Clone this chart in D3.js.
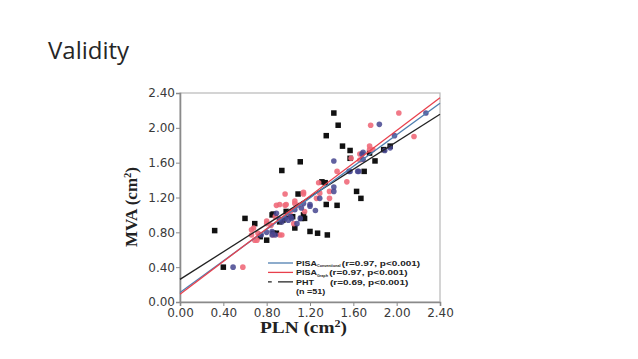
<!DOCTYPE html>
<html>
<head>
<meta charset="utf-8">
<script src="https://cdn.jsdelivr.net/npm/d3@7"></script>
<style>
  body { margin: 0; background: #fff; }
  svg { display: block; }
</style>
</head>
<body>
<svg id="chart" width="638" height="359"></svg>
<script>
// axis ticks
const xTicks = [0, 0.4, 0.8, 1.2, 1.6, 2.0, 2.4];
const yTicks = [0, 0.4, 0.8, 1.2, 1.6, 2.0, 2.4];

// PHT (black squares): [PLN, MVA]
const phtPoints = [
  [0.32, 0.82], [0.40, 0.40], [0.60, 0.96], [0.69, 0.90], [0.74, 0.75],
  [0.80, 0.71], [0.85, 1.00], [0.86, 0.79], [0.89, 0.79], [0.86, 1.01],
  [0.94, 1.51], [0.95, 0.94], [0.98, 1.04], [1.06, 0.85], [1.09, 1.24],
  [1.11, 1.61], [1.12, 0.96], [1.14, 1.00], [1.15, 0.96], [1.20, 0.81],
  [1.27, 0.79], [1.31, 1.38], [1.34, 1.37], [1.35, 1.91], [1.35, 1.12],
  [1.36, 0.77], [1.42, 2.17], [1.45, 1.11], [1.46, 2.03], [1.50, 1.79],
  [1.57, 1.74], [1.57, 1.65], [1.63, 1.27], [1.67, 1.19], [1.70, 1.50],
  [1.75, 1.71], [1.80, 1.62], [1.88, 1.75], [1.94, 1.79], [1.00, 1.00],
  [0.92, 0.92], [1.04, 0.98]
];

// PISA conventional (blue circles)
const pisaConvPoints = [
  [0.49, 0.40], [0.75, 0.77], [0.85, 0.81], [0.85, 0.77], [0.88, 0.77],
  [0.89, 1.02], [0.94, 0.92], [0.97, 0.96], [1.02, 0.98], [1.03, 0.96],
  [1.08, 0.90], [1.11, 0.96], [1.14, 1.13], [1.20, 1.10], [1.20, 1.12],
  [1.25, 1.05], [1.29, 1.19], [1.42, 1.27], [1.42, 1.32], [1.42, 1.62],
  [1.56, 1.50], [1.57, 1.50], [1.64, 1.50], [1.65, 1.50], [1.68, 1.70],
  [1.69, 1.64], [1.69, 1.72], [1.84, 2.04], [1.89, 1.74], [1.94, 1.77],
  [1.98, 1.91], [2.27, 2.17], [0.92, 0.95], [1.06, 1.06], [1.00, 0.94],
  [0.80, 0.80], [1.12, 1.08]
];

// PISA graph (red circles)
const pisaGraphPoints = [
  [0.58, 0.40], [0.66, 0.83], [0.66, 0.77], [0.68, 0.85], [0.69, 0.71],
  [0.71, 0.71], [0.72, 0.79], [0.80, 0.90], [0.80, 0.93], [0.86, 0.77],
  [0.88, 0.98], [0.89, 1.11], [0.92, 1.12], [0.92, 0.77], [0.94, 0.77],
  [0.97, 1.24], [0.97, 1.11], [0.98, 1.12], [1.02, 1.04], [1.05, 0.90],
  [1.06, 1.13], [1.06, 1.16], [1.09, 1.11], [1.14, 1.24], [1.14, 1.26],
  [1.15, 1.04], [1.26, 1.19], [1.28, 1.37], [1.29, 1.25], [1.38, 1.27],
  [1.38, 1.19], [1.45, 1.50], [1.54, 1.38], [1.58, 1.65], [1.66, 1.70],
  [1.66, 1.63], [1.75, 1.79], [1.75, 1.75], [1.76, 2.03], [1.78, 1.75],
  [2.02, 2.17], [2.16, 1.90], [0.84, 0.88], [1.00, 1.02]
];

// fitted lines: [intercept, slope]
const lineCoefs = {
  conv: [0.11, 0.905],
  graph: [0.09, 0.94],
  pht: [0.26, 0.79]
};

const legendRows = [
  { key: "conv", name: "PISA", sub: "Conventional", stat: "(r=0.97, p<0.001)" },
  { key: "graph", name: "PISA", sub: "Graph", stat: "(r=0.97, p<0.001)" },
  { key: "pht", name: "PHT", sub: "", stat: "(r=0.69, p<0.001)" }
];

const colors = {
  conv: "#4f7fb0",
  graph: "#e8404c",
  pht: "#222222",
  convDot: "#45458f",
  graphDot: "#f06a7a",
  phtDot: "#111111"
};

const svg = d3.select("#chart");

// slide title
svg.append("text")
  .attr("x", 48)
  .attr("y", 59)
  .attr("font-family", "'Open Sans', sans-serif")
  .attr("font-size", 24)
  .attr("fill", "#262626")
  .text("Validity");

const plotL = 180, plotR = 440, plotT = 93, plotB = 302;

const x = d3.scaleLinear().domain([0, 2.4]).range([plotL, plotR]);
const y = d3.scaleLinear().domain([0, 2.4]).range([plotB, plotT]);

const frame = "#8a8a8a";

// frame box
svg.append("rect")
  .attr("x", plotL).attr("y", plotT)
  .attr("width", plotR - plotL).attr("height", plotB - plotT)
  .attr("fill", "none")
  .attr("stroke", "#b8b8b8")
  .attr("stroke-width", 1.2);

// axes
const xAxis = svg.append("g")
  .attr("transform", `translate(0,${plotB})`)
  .call(d3.axisBottom(x).tickValues(xTicks).tickFormat(d3.format(".2f")).tickSize(4));
const yAxis = svg.append("g")
  .attr("transform", `translate(${plotL},0)`)
  .call(d3.axisLeft(y).tickValues(yTicks).tickFormat(d3.format(".2f")).tickSize(4));

[xAxis, yAxis].forEach((g) => {
  g.select(".domain").attr("stroke", frame).attr("stroke-width", 1.6);
  g.selectAll(".tick line").attr("stroke", frame).attr("stroke-width", 1);
  g.selectAll(".tick text")
    .attr("font-family", "'DejaVu Sans', sans-serif")
    .attr("font-size", 12)
    .attr("fill", "#3a3a3a");
});
xAxis.selectAll(".tick text").attr("y", 15).attr("dy", 0);
yAxis.selectAll(".tick text").attr("x", -5);

// axis titles (source image is stretched sideways, so fit widths)
const xt = svg.append("text")
  .attr("x", 260).attr("y", 333)
  .attr("textLength", 87)
  .attr("lengthAdjust", "spacingAndGlyphs")
  .attr("font-family", "'Liberation Serif', 'Times New Roman', serif")
  .attr("font-weight", "bold")
  .attr("font-size", 16)
  .attr("fill", "#222");
xt.append("tspan").text("PLN (cm");
xt.append("tspan").attr("font-size", 10).attr("dy", -6).text("2");
xt.append("tspan").attr("dy", 6).text(")");

const yt = svg.append("text")
  .attr("transform", "translate(137,247) rotate(-90)")
  .attr("x", 0).attr("y", 0)
  .attr("textLength", 80)
  .attr("lengthAdjust", "spacingAndGlyphs")
  .attr("font-family", "'Liberation Serif', 'Times New Roman', serif")
  .attr("font-weight", "bold")
  .attr("font-size", 16)
  .attr("fill", "#222");
yt.append("tspan").text("MVA (cm");
yt.append("tspan").attr("font-size", 10).attr("dy", -6).text("2");
yt.append("tspan").attr("dy", 6).text(")");

// points
const sq = 5.5;
svg.append("g").selectAll("rect")
  .data(phtPoints).enter().append("rect")
  .attr("x", (d) => x(d[0]) - sq / 2)
  .attr("y", (d) => y(d[1]) - sq / 2)
  .attr("width", sq).attr("height", sq)
  .attr("fill", colors.phtDot);

svg.append("g").selectAll("circle")
  .data(pisaGraphPoints).enter().append("circle")
  .attr("cx", (d) => x(d[0])).attr("cy", (d) => y(d[1]))
  .attr("r", 2.8)
  .attr("fill", colors.graphDot)
  .attr("opacity", 0.9);

svg.append("g").selectAll("circle")
  .data(pisaConvPoints).enter().append("circle")
  .attr("cx", (d) => x(d[0])).attr("cy", (d) => y(d[1]))
  .attr("r", 2.8)
  .attr("fill", colors.convDot)
  .attr("opacity", 0.85);

// regression lines
const line = d3.line().x((d) => x(d[0])).y((d) => y(d[1]));
["pht", "conv", "graph"].forEach((k) => {
  const [b, m] = lineCoefs[k];
  svg.append("path")
    .datum([[0, b], [2.4, b + m * 2.4]])
    .attr("d", line)
    .attr("fill", "none")
    .attr("stroke", colors[k])
    .attr("stroke-width", 1.3);
});

// legend, stretched sideways like the source
const lg = svg.append("g").attr("transform", "translate(268,263) scale(1.25,1)");
const statX = [54, 46.5, 49.6];
const rowGap = 9.4;
const legFont = "'Liberation Sans', Arial, sans-serif";
legendRows.forEach((r, i) => {
  const ry = i * rowGap;
  lg.append("line")
    .attr("x1", 0).attr("x2", 20)
    .attr("y1", ry).attr("y2", ry)
    .attr("stroke", colors[r.key])
    .attr("stroke-width", 1.3)
    .attr("stroke-dasharray", r.key === "pht" ? "3,5,12" : null);
  const t = lg.append("text")
    .attr("x", 22.4).attr("y", ry + 3)
    .attr("font-family", legFont)
    .attr("font-weight", "bold")
    .attr("font-size", 7.2)
    .attr("fill", "#222");
  t.append("tspan").text(r.name);
  if (r.sub) {
    t.append("tspan")
      .attr("font-size", 3)
      .attr("dy", 1.2)
      .text(r.sub);
  }
  // keep the stats clear of the name
  const nameEnd = 22.4 + t.node().getComputedTextLength();
  lg.append("text")
    .attr("x", Math.max(statX[i], nameEnd + 1))
    .attr("y", ry + 3)
    .attr("font-family", legFont)
    .attr("font-weight", "bold")
    .attr("font-size", 8)
    .attr("fill", "#222")
    .text(r.stat);
});
lg.append("text")
  .attr("x", 22.4).attr("y", 3 * rowGap + 3)
  .attr("font-family", legFont)
  .attr("font-weight", "bold")
  .attr("font-size", 7.2)
  .attr("fill", "#222")
  .text("(n =51)");
</script>
</body>
</html>
